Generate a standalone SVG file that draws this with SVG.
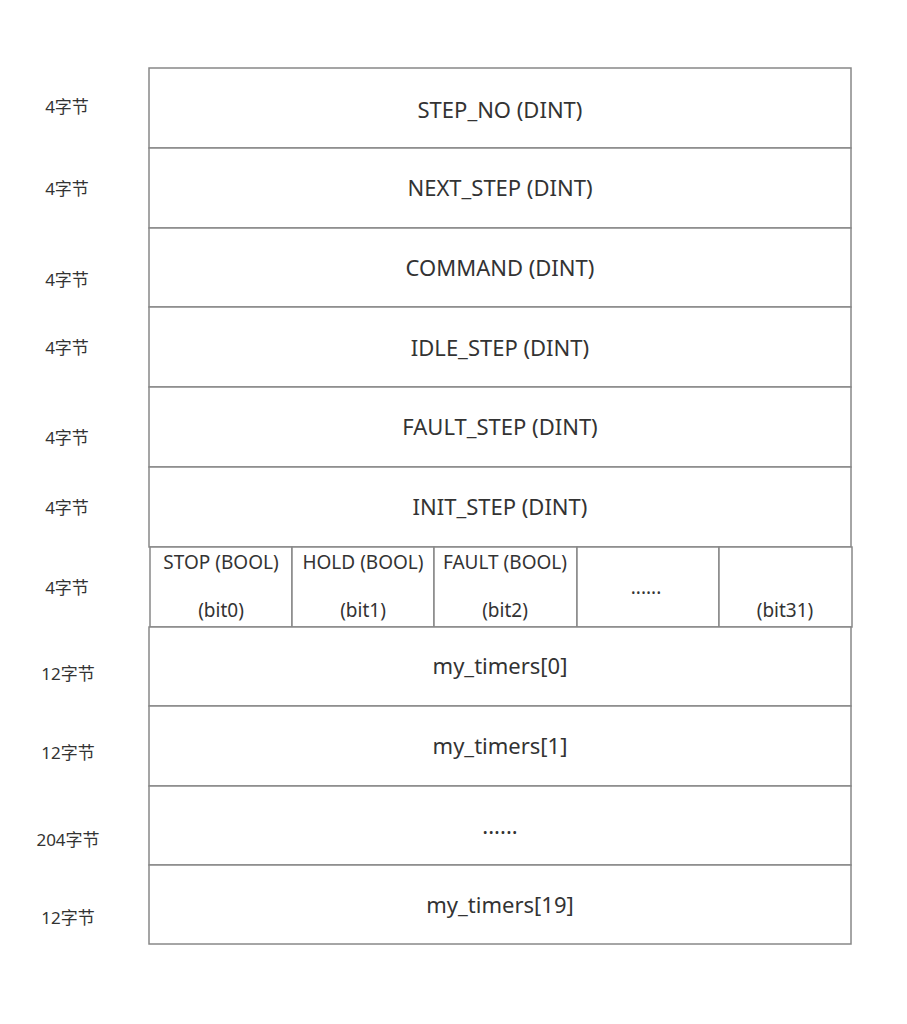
<svg xmlns="http://www.w3.org/2000/svg" width="907" height="1024" viewBox="0 0 907 1024">
<style>
.box{fill:#fff;stroke:#888;stroke-width:1.5}
.t{font-family:"Noto Sans","Noto Sans CJK SC",sans-serif;fill:#333;text-anchor:middle;dominant-baseline:central}
.m{font-size:22px}
.b{font-size:19px}
.l{font-size:17px}
</style>
<rect width="907" height="1024" fill="#fff"/>
<g id="labels">
<text class="t l" x="67" y="106">4字节</text>
<text class="t l" x="67" y="188">4字节</text>
<text class="t l" x="67" y="279">4字节</text>
<text class="t l" x="67" y="347">4字节</text>
<text class="t l" x="67" y="437">4字节</text>
<text class="t l" x="67" y="507">4字节</text>
<text class="t l" x="67" y="587">4字节</text>
<text class="t l" x="68" y="673">12字节</text>
<text class="t l" x="68" y="752">12字节</text>
<text class="t l" x="68" y="839">204字节</text>
<text class="t l" x="68" y="917">12字节</text>
</g>
<g id="step_no"><rect class="box" x="149" y="68" width="702" height="80"/><text class="t m" x="500" y="109">STEP_NO (DINT)</text></g>
<g id="next_step"><rect class="box" x="149" y="148" width="702" height="80"/><text class="t m" x="500" y="187">NEXT_STEP (DINT)</text></g>
<g id="command"><rect class="box" x="149" y="228" width="702" height="79"/><text class="t m" x="500" y="267">COMMAND (DINT)</text></g>
<g id="idle_step"><rect class="box" x="149" y="307" width="702" height="80"/><text class="t m" x="500" y="347">IDLE_STEP (DINT)</text></g>
<g id="fault_step"><rect class="box" x="149" y="387" width="702" height="80"/><text class="t m" x="500" y="426">FAULT_STEP (DINT)</text></g>
<g id="init_step"><rect class="box" x="149" y="467" width="702" height="80"/><text class="t m" x="500" y="506">INIT_STEP (DINT)</text></g>
<g id="bit0"><rect class="box" x="150" y="547" width="142" height="80"/><text class="t b" x="221" y="562">STOP (BOOL)</text><text class="t b" x="221" y="610">(bit0)</text></g>
<g id="bit1"><rect class="box" x="292" y="547" width="142" height="80"/><text class="t b" x="363" y="562">HOLD (BOOL)</text><text class="t b" x="363" y="610">(bit1)</text></g>
<g id="bit2"><rect class="box" x="434" y="547" width="143" height="80"/><text class="t b" x="505" y="562">FAULT (BOOL)</text><text class="t b" x="505" y="610">(bit2)</text></g>
<g id="bitdots"><rect class="box" x="577" y="547" width="142" height="80"/><text class="t b" x="646" y="587">......</text></g>
<g id="bit31"><rect class="box" x="719" y="547" width="133" height="80"/><text class="t b" x="785" y="610">(bit31)</text></g>
<g id="timer0"><rect class="box" x="149" y="627" width="702" height="79"/><text class="t m" x="500" y="665">my_timers[0]</text></g>
<g id="timer1"><rect class="box" x="149" y="706" width="702" height="80"/><text class="t m" x="500" y="745">my_timers[1]</text></g>
<g id="timerdots"><rect class="box" x="149" y="786" width="702" height="79"/><text class="t m" x="500" y="825">......</text></g>
<g id="timer19"><rect class="box" x="149" y="865" width="702" height="79"/><text class="t m" x="500" y="904">my_timers[19]</text></g>
<g id="connectors"></g>
</svg>
